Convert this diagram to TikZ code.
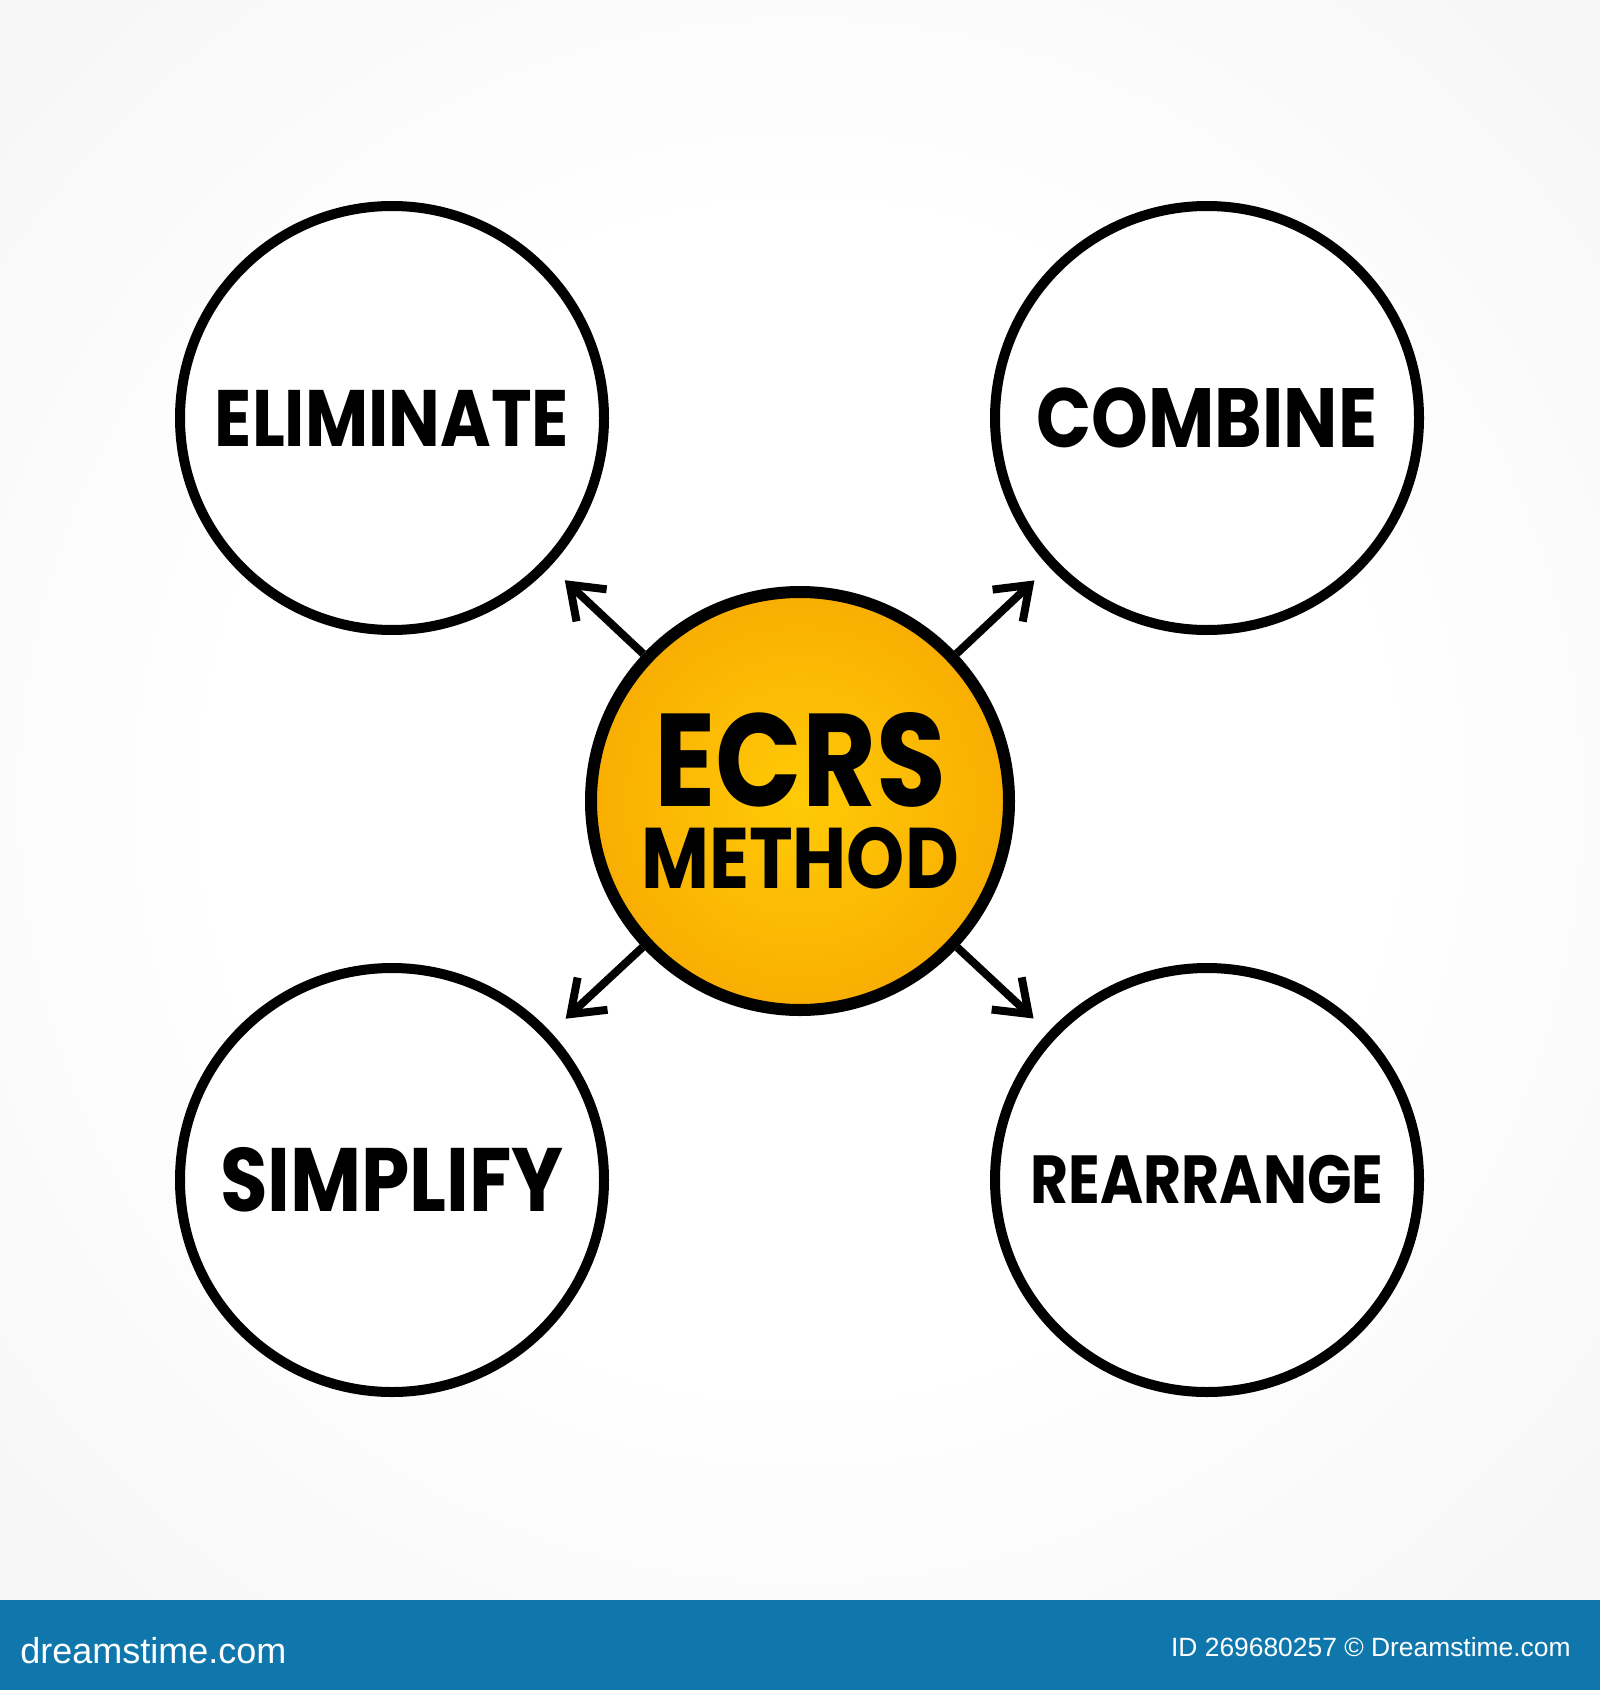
\documentclass[tikz,border=0pt]{standalone}
\usepackage{fontspec}
\usepackage{xcolor}
\usetikzlibrary{arrows.meta}

\newfontfamily\handfont[FakeStretch=0.86]{Poppins}
\newfontfamily\barfont{Liberation Sans}

\definecolor{hubyellow}{HTML}{FFCA06}
\definecolor{huborange}{HTML}{F6A200}
\definecolor{barblue}{HTML}{1077AD}
\definecolor{paperedge}{HTML}{E2E2E2}

\pgfdeclareradialshading{hubglow}{\pgfpoint{0bp}{0bp}}%
  {color(0bp)=(hubyellow); color(36bp)=(huborange); color(50bp)=(huborange)}
\pgfdeclareradialshading{paper}{\pgfpoint{0bp}{0bp}}%
  {color(0bp)=(white); color(18bp)=(white); color(72bp)=(paperedge)}

\tikzset{
  idea/.style={circle, draw=black, fill=white, line width=5pt,
    minimum size=212pt, inner sep=0pt, font=\handfont\bfseries},
  hub/.style={circle, draw=black, shading=hubglow, line width=6pt,
    minimum size=209pt, inner sep=0pt, align=center, font=\handfont\bfseries},
  spoke/.style={line width=4pt, -{Straight Barb[length=15pt, width=22pt]},
    shorten >=10pt},
}

\begin{document}
\begin{tikzpicture}[x=0.5pt, y=-0.5pt]
    \useasboundingbox (0, 0) rectangle (1600, 1690);

    % draw paper and footer bar
    \shade[shading=paper] (0, 0) rectangle (1600, 1600);
    \fill[barblue] (0, 1600) rectangle (1600, 1690);

    % draw the four ideas
    \node[idea, font=\handfont\bfseries\fontsize{40}{40}\selectfont] (elim) at (392, 418) {ELIMINATE};
    \node[idea, font=\handfont\bfseries\fontsize{42}{42}\selectfont] (comb) at (1207, 418) {COMBINE};
    \node[idea, font=\handfont\bfseries\fontsize{45}{45}\selectfont] (simp) at (392, 1180) {SIMPLIFY};
    \node[idea, font=\handfont\bfseries\fontsize{34}{34}\selectfont] (rear) at (1207, 1180) {REARRANGE};

    % draw the hub
    \node[hub] (ecrs) at (800, 801)
      {\fontsize{66}{66}\selectfont ECRS\\[9pt]\fontsize{43}{43}\selectfont METHOD};

    % draw spokes
    \draw[spoke] (ecrs) -- (elim);
    \draw[spoke] (ecrs) -- (comb);
    \draw[spoke] (ecrs) -- (simp);
    \draw[spoke] (ecrs) -- (rear);

    % footer texts
    \node[text=white, anchor=base west, inner sep=0pt, font=\barfont\fontsize{18}{18}\selectfont]
      (brand) at (20, 1663) {dreamstime.com};
    \node[text=white, anchor=base east, inner sep=0pt, font=\barfont\fontsize{13.2}{13.2}\selectfont]
      (stockid) at (1571, 1656) {ID 269680257 © Dreamstime.com};
\end{tikzpicture}
\end{document}
